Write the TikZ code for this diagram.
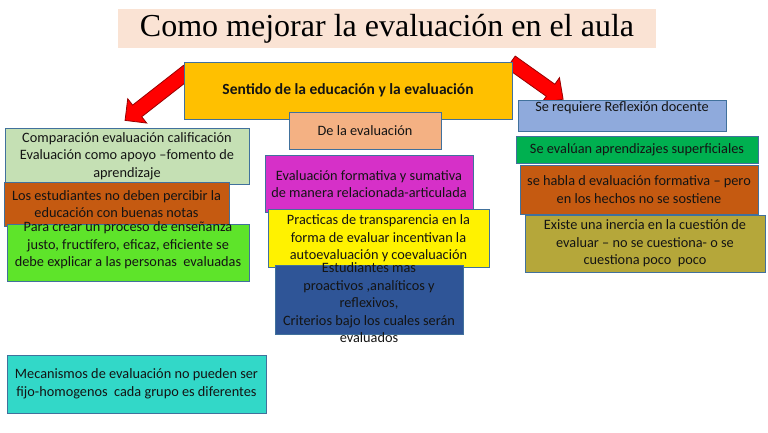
\documentclass[tikz,border=0pt]{standalone}
\usepackage{fontspec}
\setmainfont{Carlito}
\newfontfamily\titulo{Liberation Serif}
\usetikzlibrary{shapes.arrows}
\definecolor{borde}{RGB}{65,113,156}
\definecolor{durazno}{RGB}{250,227,212}
\definecolor{ambar}{RGB}{255,192,0}
\definecolor{salmon}{RGB}{244,177,131}
\definecolor{verdeclaro}{RGB}{197,224,180}
\definecolor{ladrillo}{RGB}{197,90,17}
\definecolor{verdevivo}{RGB}{94,228,42}
\definecolor{magenta2}{RGB}{214,48,200}
\definecolor{azul}{RGB}{47,85,151}
\definecolor{celeste}{RGB}{143,170,220}
\definecolor{verde}{RGB}{0,176,80}
\definecolor{oliva}{RGB}{181,167,58}
\definecolor{turquesa}{RGB}{50,216,200}
\definecolor{texto}{RGB}{20,20,20}

\begin{document}
\begin{tikzpicture}[x=1pt, y=-1pt,
    caja/.style={draw=borde, line width=0.8pt, align=center, inner sep=0pt, text=texto,
      font=\fontsize{14.3}{17.5}\selectfont},
    flecha/.style={single arrow, fill=red, draw=red!60!black, line width=0.8pt,
      inner xsep=0pt, inner ysep=7pt, single arrow head extend=8pt}]
  \useasboundingbox[fill=white] (0,0) rectangle (768,433);
  % titulo
  \node[fill=durazno, minimum width=538pt, minimum height=39pt, font=\titulo\fontsize{32}{33}\selectfont]
    (titulo) at (387,28.5) {Como mejorar la evaluación en el aula};
  % flechas
  \node[flecha, minimum height=80pt, rotate=218] (flechaIzq) at (159.5,93.5) {};
  \node[flecha, minimum height=64pt, rotate=-35.4] (flechaDer) at (534,78.5) {};
  \node[caja, fill=ambar, minimum width=328pt, minimum height=57pt, font=\fontsize{15.5}{17.5}\selectfont\bfseries]
    (sentido) at (348,90.5) {Sentido de la educación y la evaluación};
  \node[caja, fill=salmon, minimum width=152pt, minimum height=37pt] (dela) at (365,130.5) {De la evaluación};
  % columna izquierda
  \node[caja, fill=verdeclaro, minimum width=244pt, minimum height=56pt] (comparacion) at (127,156)
    {Comparación evaluación calificación\\Evaluación como apoyo –fomento de\\aprendizaje};
  \node[caja, fill=ladrillo, minimum width=225pt, minimum height=44pt] (notas) at (116.5,204)
    {Los estudiantes no deben percibir la\\educación con buenas notas};
  \node[caja, fill=verdevivo, minimum width=242pt, minimum height=57pt] (proceso) at (128,252.5) {};
  \node[caja, draw=none] at (128,245.5)
    {Para crear un proceso de enseñanza\\justo, fructífero, eficaz, eficiente se\\debe explicar a las personas\ \ evaluadas};
  \node[caja, fill=turquesa, minimum width=259pt, minimum height=58pt] (mecanismos) at (136.5,384)
    {Mecanismos de evaluación no pueden ser\\fijo-homogenos\ \ cada grupo es diferentes};
  % columna central
  \node[caja, fill=magenta2, minimum width=208pt, minimum height=57pt] (formativa) at (369,184)
    {Evaluación formativa y sumativa\\de manera relacionada-articulada};
  \node[caja, fill=yellow, minimum width=221pt, minimum height=58pt] (transparencia) at (378.5,238.5)
    {Practicas de transparencia en la\\forma de evaluar incentivan la\\autoevaluación y coevaluación};
  \node[caja, fill=azul, minimum width=188pt, minimum height=69pt] (proactivos) at (369,299.5) {};
  \node[caja, draw=none] at (369,303)
    {Estudiantes mas\\proactivos ,analíticos y\\reflexivos,\\Criterios bajo los cuales serán\\evaluados};
  % columna derecha
  \node[caja, fill=celeste, minimum width=208pt, minimum height=31pt] (reflexion) at (622,115.5) {};
  \node[caja, draw=none] at (622,108) {Se requiere Reflexión docente};
  \node[caja, fill=verde, minimum width=242pt, minimum height=27pt] (superficiales) at (637,149.5)
    {Se evalúan aprendizajes superficiales};
  \node[caja, fill=ladrillo, minimum width=238pt, minimum height=49pt] (habla) at (639,189.5)
    {se habla d evaluación formativa – pero\\en los hechos no se sostiene};
  \node[caja, fill=oliva, minimum width=240pt, minimum height=57pt] (inercia) at (645,243.5)
    {Existe una inercia en la cuestión de\\evaluar – no se cuestiona- o se\\cuestiona poco\ \ poco};
\end{tikzpicture}
\end{document}
